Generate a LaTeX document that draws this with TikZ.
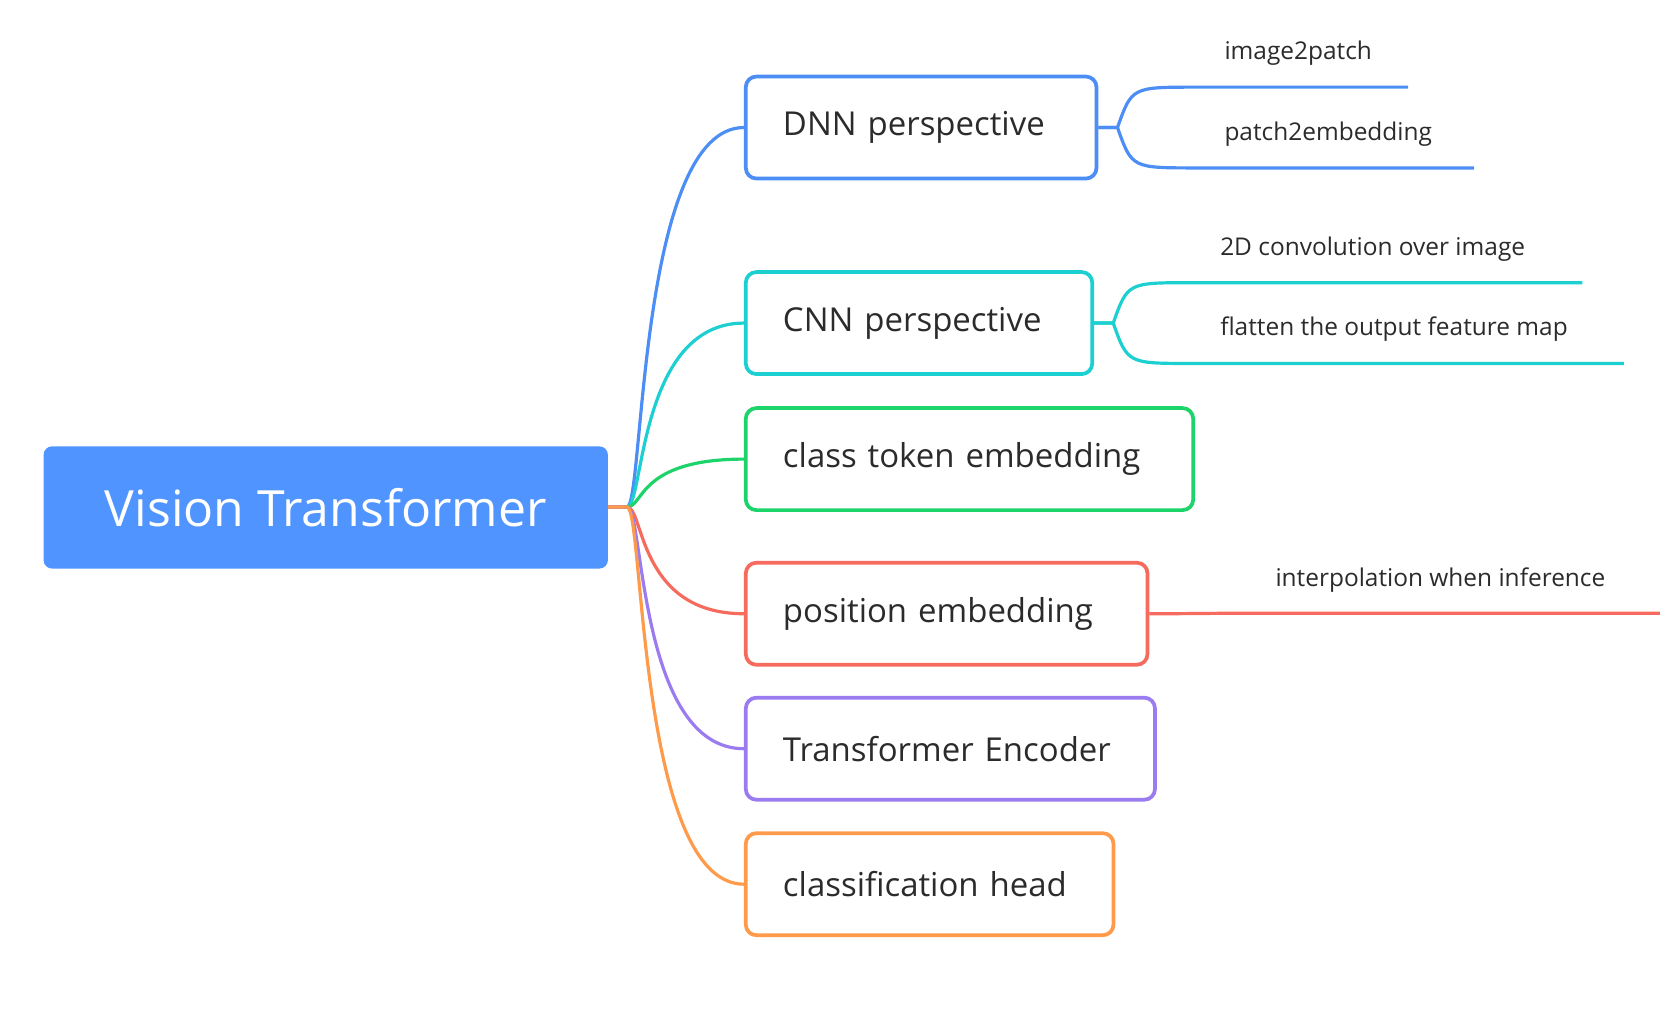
\documentclass[tikz,border=0pt]{standalone}
\usepackage{fontspec}
\setmainfont{Open Sans}
\definecolor{cblue}{HTML}{4C8DF6}
\definecolor{croot}{HTML}{4F94FF}
\definecolor{ccyan}{HTML}{1CCFD0}
\definecolor{cgreen}{HTML}{1DD46A}
\definecolor{cred}{HTML}{F76B5E}
\definecolor{cpurple}{HTML}{9B7CF0}
\definecolor{corange}{HTML}{FF9A4A}
\definecolor{ctext}{HTML}{2B2B2B}
\begin{document}
\begin{tikzpicture}[x=1pt,y=-1pt,
  box/.style={draw=#1, line width=3.5pt, rounded corners=10pt, fill=white, anchor=west,
     minimum height=96pt, inner xsep=35pt, align=left, text=ctext,
     font=\fontsize{31}{38}\selectfont},
  conn/.style={draw=#1, line width=3pt},
  leaf/.style={anchor=west, text=ctext, inner sep=0pt, font=\fontsize{23}{28}\selectfont}]
\useasboundingbox (0,0) rectangle (1562,955);
\node[fill=croot, rounded corners=8pt, minimum width=531pt, minimum height=115pt, text=white,
  font=\fontsize{47}{56}\selectfont] (root) at (306.5,477.5) {Vision Transformer};
\coordinate (hub) at (590,477);
\foreach \y/\c in {120/cblue, 304/ccyan, 432/cgreen, 577.5/cred, 704.5/cpurple, 832/corange}{
  \coordinate (tgt) at (700,\y);
  \draw[conn=\c] (572,477) -- (hub) .. controls (606,477) and (600,\y) .. (tgt);
}
\node[box=cblue, text width=260pt] (dnn) at (700,120) {\mbox{DNN perspective}};
\node[box=ccyan, text width=256pt] (cnn) at (700,304) {\mbox{CNN perspective}};
\node[box=cgreen, text width=351pt] (cls) at (700,432) {\mbox{class token embedding}};
\node[box=cred, text width=308pt] (pos) at (700,577.5) {\mbox{position embedding}};
\node[box=cpurple, text width=315pt] (tre) at (700,704.5) {\mbox{Transformer Encoder}};
\node[box=corange, text width=276pt] (head) at (700,832) {\mbox{classification head}};
\coordinate (l1) at (1325,82); \coordinate (l2) at (1387,158);
\coordinate (l3) at (1489,266); \coordinate (l4) at (1528,342);
\coordinate (l5) at (1562,577);
\node[leaf] (t1) at (1152,50) {image2patch};
\node[leaf] (t2) at (1152,126) {patch2embedding};
\node[leaf] (t3) at (1148,234) {2D convolution over image};
\node[leaf] (t4) at (1148,310) {flatten the output feature map};
\node[leaf] (t5) at (1200,546) {interpolation when inference};
\draw[conn=cblue] (dnn.east) -- ++(18,0) .. controls (1065,82) .. (1125,82) -- (l1);
\draw[conn=cblue] (dnn.east) -- ++(18,0) .. controls (1065,158) .. (1125,158) -- (l2);
\draw[conn=ccyan] (cnn.east) -- ++(18,0) .. controls (1061,266) .. (1121,266) -- (l3);
\draw[conn=ccyan] (cnn.east) -- ++(18,0) .. controls (1061,342) .. (1121,342) -- (l4);
\draw[conn=cred] (pos.east) -- ++(20,0) .. controls (1130,577) .. (1160,577) -- (l5);
\end{tikzpicture}
\end{document}
